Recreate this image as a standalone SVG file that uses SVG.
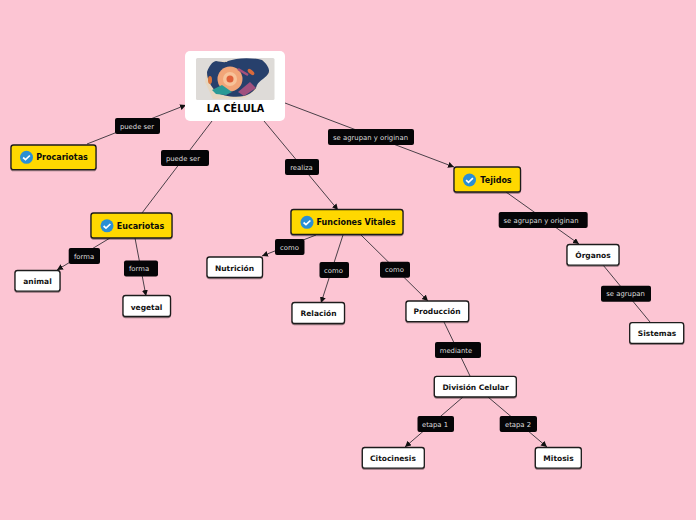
<svg xmlns="http://www.w3.org/2000/svg" width="696" height="520" viewBox="0 0 696 520">
<style>
text{font-family:"DejaVu Sans",Verdana,sans-serif;text-anchor:middle}
.line{fill:none;stroke:#4a4048;stroke-width:1}
.gold{fill:#ffd800;stroke:#1a1a1a;stroke-width:1.3;filter:url(#sh)}
.white{fill:#fff;stroke:#1a1a1a;stroke-width:1.3;filter:url(#sh)}
.gt{font-size:8px;font-weight:700;fill:#0a0a0a}
.wt{font-size:7.5px;font-weight:700;fill:#111}
.lb{fill:#050507}
.lt{font-size:6.85px;fill:#dedede}
.chk{fill:none;stroke:#fff;stroke-width:1.7}
</style>
<defs>
<filter id="sh" x="-10%" y="-20%" width="120%" height="150%"><feDropShadow dx="0" dy="1" stdDeviation="0.6" flood-color="#000" flood-opacity="0.4"/></filter>
<marker id="arr" markerUnits="userSpaceOnUse" markerWidth="7" markerHeight="7" refX="6" refY="3" orient="auto"><path d="M0 0L6 3L0 6Z" fill="#111"/></marker>
<g id="tick"><circle r="6.5" fill="#2a8fd4"/><path class="chk" d="M-3.4 0.2L-1 2.4L3.4-1.8"/></g>
</defs>
<rect width="696" height="520" fill="#fcc5d3"/>
<g id="connectors">
<path class="line" d="M87 144L186 105" marker-end="url(#arr)"/>
<path class="line" d="M212 121L142 213"/>
<path class="line" d="M110 238L57 270" marker-end="url(#arr)"/>
<path class="line" d="M135 238L146 296" marker-end="url(#arr)"/>
<path class="line" d="M264 121L338 210" marker-end="url(#arr)"/>
<path class="line" d="M285 103L454 167" marker-end="url(#arr)"/>
<path class="line" d="M316 235L262 256" marker-end="url(#arr)"/>
<path class="line" d="M343 235L321 303" marker-end="url(#arr)"/>
<path class="line" d="M361 235L428 301" marker-end="url(#arr)"/>
<path class="line" d="M444 322L470 376"/>
<path class="line" d="M463 397L405 447" marker-end="url(#arr)"/>
<path class="line" d="M488 397L547 447" marker-end="url(#arr)"/>
<path class="line" d="M506 192L579 244" marker-end="url(#arr)"/>
<path class="line" d="M603 265L650 322"/>
<g id="labels">
<rect class="lb" x="115" y="118" width="45" height="16" rx="2"/><text class="lt" x="137" y="129">puede ser</text>
<rect class="lb" x="161" y="150" width="48" height="16" rx="2"/><text class="lt" x="183" y="160.500">puede ser</text>
<rect class="lb" x="68.700" y="248" width="31.300" height="16" rx="2"/><text class="lt" x="84" y="258.500">forma</text>
<rect class="lb" x="124" y="260.500" width="34" height="16" rx="2"/><text class="lt" x="139" y="271">forma</text>
<rect class="lb" x="285" y="159" width="34" height="16" rx="2"/><text class="lt" x="301.500" y="169.500">realiza</text>
<rect class="lb" x="328" y="129" width="86" height="16" rx="2"/><text class="lt" x="370.500" y="140">se agrupan y originan</text>
<rect class="lb" x="275" y="239" width="29.500" height="16" rx="2"/><text class="lt" x="289.500" y="250">como</text>
<rect class="lb" x="319.500" y="262" width="29.500" height="16" rx="2"/><text class="lt" x="333.500" y="273">como</text>
<rect class="lb" x="380" y="261.700" width="30" height="16" rx="2"/><text class="lt" x="394.500" y="272">como</text>
<rect class="lb" x="435" y="342" width="46" height="16" rx="2"/><text class="lt" x="456" y="352.500">mediante</text>
<rect class="lb" x="498.700" y="212" width="89" height="16" rx="2"/><text class="lt" x="541" y="222.500">se agrupan y originan</text>
<rect class="lb" x="601" y="285.700" width="50" height="16" rx="2"/><text class="lt" x="625.500" y="296">se agrupan</text>
<rect class="lb" x="417.500" y="416" width="36.500" height="16" rx="2"/><text class="lt" x="435" y="426.500">etapa 1</text>
<rect class="lb" x="499.700" y="416" width="37.300" height="16" rx="2"/><text class="lt" x="518" y="426.500">etapa 2</text>
</g>
</g>
<g id="root">
<rect x="185" y="51" width="100" height="70" rx="5" fill="#fff"/>
<rect x="196" y="58" width="78.500" height="42" rx="1.500" fill="#dedbd8"/>
<path d="M205 82L207 72L213 62L241 60L263 60L270 73L257 83L256 90L245 98L213 99Z" fill="#e6d6c0"/>
<path d="M207 72C209 66 212 62 216 61C222 62 226 63 228 61C236 58 250 57 262 60C267 64 271 70 268 74C264 80 258 80 256 88C252 93 248 95 244 96C235 98 222 96 216 92C211 86 207 80 207 72Z" fill="#27406c"/>
<circle cx="230" cy="79" r="12.500" fill="#f2a578"/>
<circle cx="230" cy="79" r="7" fill="#f7c39a"/>
<circle cx="230" cy="79" r="3.500" fill="#e0603a"/>
<path d="M212 90L222 85L232 92L226 95L216 94Z" fill="#2a9a96"/>
<path d="M238 92L250 82L256 88L244 96Z" fill="#a0507e"/>
<path d="M238 69L248 75" stroke="#a8507a" stroke-width="2.500"/>
<ellipse cx="251" cy="72" rx="2" ry="4" fill="#d96a3c" transform="rotate(-50 251 72)"/>
<ellipse cx="210" cy="80" rx="2" ry="4" fill="#d9743c"/>
<text x="235.500" y="111.500" font-size="9.600" font-weight="700" fill="#000">LA CÉLULA</text>
</g>
<g id="procariotas"><rect class="gold" x="11" y="145" width="85" height="24.700" rx="2.500"/><use href="#tick" x="26.500" y="157.300"/><text class="gt" x="62" y="160">Procariotas</text></g>
<g id="eucariotas"><rect class="gold" x="91" y="213" width="81" height="25" rx="2.500"/><use href="#tick" x="107" y="225.800"/><text class="gt" x="140.500" y="228.500">Eucariotas</text></g>
<g id="tejidos"><rect class="gold" x="454" y="167" width="66.500" height="25" rx="2.500"/><use href="#tick" x="469.500" y="180"/><text class="gt" x="496" y="183">Tejidos</text></g>
<g id="funciones"><rect class="gold" x="291" y="209.500" width="112" height="25" rx="2.500"/><use href="#tick" x="307" y="222.300"/><text class="gt" x="356" y="225">Funciones Vitales</text></g>
<g id="animal"><rect class="white" x="15" y="270.500" width="45" height="20.700" rx="2.500"/><text class="wt" x="37.500" y="284">animal</text></g>
<g id="vegetal"><rect class="white" x="123" y="295.500" width="47.500" height="21" rx="2.500"/><text class="wt" x="146.500" y="309.500">vegetal</text></g>
<g id="nutricion"><rect class="white" x="207" y="257" width="55.500" height="20.500" rx="2.500"/><text class="wt" x="234.500" y="270.500">Nutrición</text></g>
<g id="relacion"><rect class="white" x="292" y="302.500" width="52.500" height="21" rx="2.500"/><text class="wt" x="318.500" y="316">Relación</text></g>
<g id="produccion"><rect class="white" x="406" y="301" width="62.700" height="20.700" rx="2.500"/><text class="wt" x="437" y="314">Producción</text></g>
<g id="division"><rect class="white" x="434.300" y="376.300" width="82" height="20.700" rx="2.500"/><text class="wt" x="475.500" y="389.500">División Celular</text></g>
<g id="citocinesis"><rect class="white" x="362.300" y="447.500" width="62" height="20.700" rx="2.500"/><text class="wt" x="393" y="461">Citocinesis</text></g>
<g id="mitosis"><rect class="white" x="535.300" y="447.500" width="46" height="20.700" rx="2.500"/><text class="wt" x="558.500" y="461">Mitosis</text></g>
<g id="organos"><rect class="white" x="567" y="244.500" width="52" height="20.700" rx="2.500"/><text class="wt" x="593" y="258">Órganos</text></g>
<g id="sistemas"><rect class="white" x="629.700" y="322.700" width="54" height="20.700" rx="2.500"/><text class="wt" x="657" y="336">Sistemas</text></g>
</svg>
